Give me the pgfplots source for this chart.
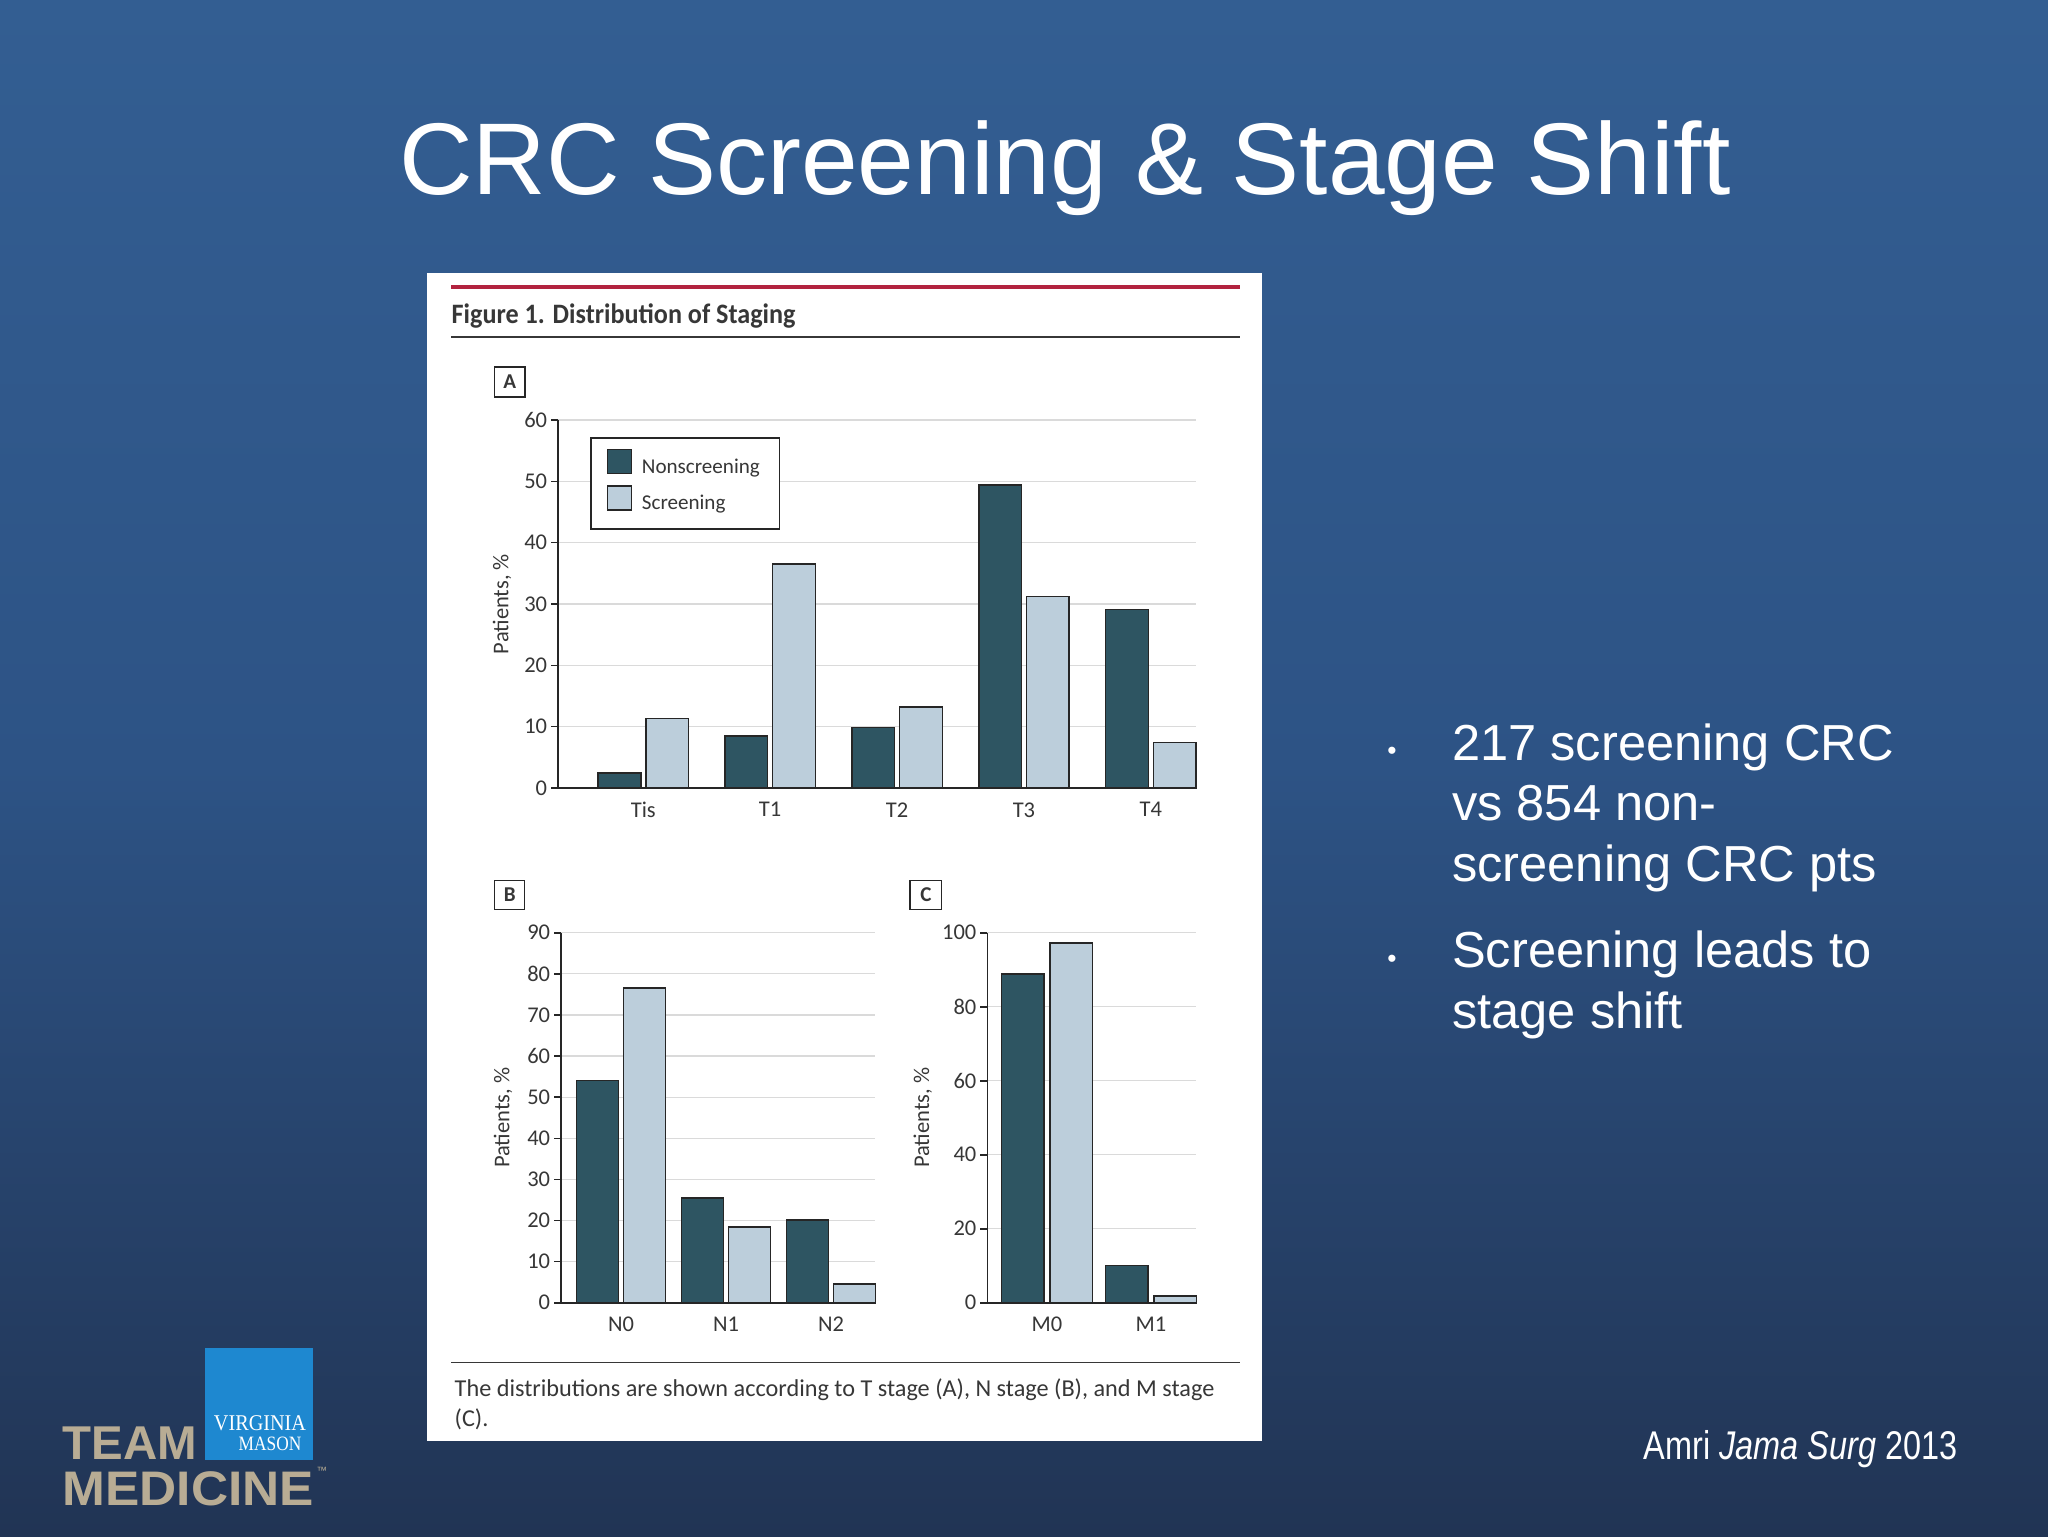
\documentclass[border=0pt]{standalone}
\usepackage{fontspec}
\usepackage{graphicx}
\usepackage{pgfplots}
\usepackage{pgfplotstable}
\pgfplotsset{compat=1.18}
\setmainfont{Liberation Sans}
\newfontfamily\figfont{Carlito}
\newfontfamily\figtitlefont{Carlito}[FakeStretch=0.93]
\newfontfamily\citefont{Liberation Sans}[FakeStretch=0.81]
\newfontfamily\logoserif{Liberation Serif}
\definecolor{bgtop}{RGB}{51,94,146}
\definecolor{bgmid}{RGB}{45,83,133}
\definecolor{bgbot}{RGB}{33,52,84}
\definecolor{nonscr}{RGB}{46,85,98}
\definecolor{scr}{RGB}{188,206,219}
\definecolor{gridc}{RGB}{218,218,218}
\definecolor{figtext}{RGB}{55,55,55}
\definecolor{jamared}{RGB}{178,35,63}
\definecolor{vmblue}{RGB}{30,136,208}
\definecolor{logotan}{RGB}{184,172,148}

\pgfplotstableread{
x ns s
0 2.45 11.3
1 8.5 36.5
2 9.9 13.2
3 49.4 31.2
4 29.1 7.4
}\tableA
\pgfplotstableread{
x ns s
0 54.1 76.5
1 25.5 18.4
2 20.1 4.5
}\tableB
\pgfplotstableread{
x ns s
0 88.9 97.2
1 10.1 1.8
}\tableC

\pgfplotsset{
  panel/.style={
    scale only axis, clip=false,
    axis x line*=bottom, axis y line*=left,
    axis line style={line width=0.45pt, draw=black!85},
    ymin=0,
    ymajorgrids, grid style={gridc, line width=0.35pt},
    tick align=outside, major tick length=0.7mm,
    ytick style={line width=0.45pt, black!85},
    xtick style={draw=none},
    ticklabel style={font=\figfont\fontsize{6.4}{7}\selectfont, text=figtext},
    yticklabel style={xshift=0.85mm},
    xticklabel style={yshift=0.5mm},
    /pgf/number format/assume math mode=true,
    label style={font=\figfont\fontsize{6.4}{7}\selectfont, text=figtext},
    ylabel={Patients, \%},
  },
  nsbar/.style={ybar, fill=nonscr, draw=black!85, line width=0.45pt},
  sbar/.style={ybar, fill=scr, draw=black!85, line width=0.45pt},
}

\begin{document}
\begin{tikzpicture}[x=0.1mm,y=0.1mm]
\useasboundingbox (0,0) rectangle (2048,1536);
\shade[top color=bgtop, bottom color=bgbot, middle color=bgmid] (0,0) rectangle (2048,1536);
\coordinate (pA) at (558,748);
\coordinate (pB) at (561,233.3);
\coordinate (pC) at (987.3,233.3);

% slide title
\node[anchor=base, text=white, inner sep=0, font=\fontsize{29}{35}\selectfont] at (1065,1341) {CRC Screening \& Stage Shift};

% bullets
\begin{scope}[every node/.style={text=white, inner sep=0}]
\node[anchor=base, font=\fontsize{7.5}{9}\selectfont] at (1392,777) {•};
\node[anchor=base, font=\fontsize{7.5}{9}\selectfont] at (1392,569) {•};
\node[anchor=base west, font=\fontsize{14.4}{17.3}\selectfont] at (1451.5,776) {217 screening CRC};
\node[anchor=base west, font=\fontsize{14.4}{17.3}\selectfont] at (1451.5,716) {vs 854 non-};
\node[anchor=base west, font=\fontsize{14.4}{17.3}\selectfont] at (1451.5,654.3) {screening CRC pts};
\node[anchor=base west, font=\fontsize{14.4}{17.3}\selectfont] at (1451.5,569) {Screening leads to};
\node[anchor=base west, font=\fontsize{14.4}{17.3}\selectfont] at (1451.5,508) {stage shift};
\node[anchor=base west, font=\citefont\fontsize{11.4}{13}\selectfont] at (1643,77) {Amri \textit{Jama Surg} 2013};
\end{scope}

% logo
\fill[vmblue] (205,76) rectangle (313,188);
\node[anchor=base, text=white, inner sep=0, font=\logoserif\fontsize{6.4}{7}\selectfont] at (260,106) {\scalebox{0.9}[1]{VIRGINIA}};
\node[anchor=base, text=white, inner sep=0, font=\logoserif\fontsize{5.8}{7}\selectfont] at (270,86) {\scalebox{0.85}[1]{MASON}};
\node[anchor=base west, text=logotan, inner sep=0, font=\bfseries\fontsize{13.5}{15}\selectfont] at (62,77) {TEAM};
\node[anchor=base west, text=logotan, inner sep=0, font=\bfseries\fontsize{13.8}{15}\selectfont] at (62,31) {\scalebox{1.06}[1]{MEDICINE}};
\node[anchor=base west, text=logotan, inner sep=0, font=\fontsize{3}{4}\selectfont] at (316,62) {™};

% white figure panel
\fill[white] (427,95) rectangle (1262,1263);
\draw[jamared, line width=0.43mm] (451,1249) -- (1240,1249);
\node[anchor=base west, inner sep=0, text=figtext, font=\figtitlefont\bfseries\fontsize{8}{9}\selectfont] at (451,1212.4) {Figure 1. Distribution of Staging};
\draw[figtext, line width=0.15mm] (451,1199.2) -- (1240,1199.2);
\draw[black!85, line width=0.12mm] (494.5,1139) rectangle (525,1169);
\node[text=figtext, inner sep=0, font=\figfont\bfseries\fontsize{6}{7}\selectfont] at (509.75,1154) {A};
\draw[black!85, line width=0.12mm] (494.7,626.7) rectangle (524.7,655.3);
\node[text=figtext, inner sep=0, font=\figfont\bfseries\fontsize{6}{7}\selectfont] at (509.7,641) {B};
\draw[black!85, line width=0.12mm] (910,626.7) rectangle (941.7,655.3);
\node[text=figtext, inner sep=0, font=\figfont\bfseries\fontsize{6}{7}\selectfont] at (925.85,641) {C};
\draw[figtext, line width=0.15mm] (451,173.3) -- (1240,173.3);
\node[anchor=base west, inner sep=0, text=figtext, font=\figfont\fontsize{6.9}{8}\selectfont] at (454,139.3) {The distributions are shown according to T stage (A), N stage (B), and M stage};
\node[anchor=base west, inner sep=0, text=figtext, font=\figfont\fontsize{6.9}{8}\selectfont] at (454,109.3) {(C).};

% Panel A
\begin{axis}[panel, at={(pA)}, anchor=south west,
  width=63.8mm, height=36.8mm,
  xmin=-0.672, xmax=4.356, ymax=60,
  ytick={0,10,...,60}, xtick={0,...,4}, xticklabels={Tis,T1,T2,T3,T4},
  ylabel style={at={(axis description cs:-0.0878,0.5)}, anchor=center},
  legend cell align=left,
  legend style={at={(0.0502,0.954)}, anchor=north west, draw=black!85, line width=0.45pt,
    fill=white, inner xsep=1.6mm, inner ysep=1.1mm, row sep=0.3mm,
    font=\figfont\fontsize{6.0}{7}\selectfont, text=figtext, nodes={inner sep=0.35mm}},
]
\addplot[nsbar, bar width=0.337, bar shift=-0.188,
  legend image code/.code={\draw[fill=nonscr, draw=black!85, line width=0.45pt] (0mm,-0.5mm) rectangle (2.4mm,1.9mm); \path (3.0mm,0mm);}]
  table[x=x,y=ns]{\tableA};
\addlegendentry{Nonscreening}
\addplot[sbar, bar width=0.337, bar shift=0.188,
  legend image code/.code={\draw[fill=scr, draw=black!85, line width=0.45pt] (0mm,-0.5mm) rectangle (2.4mm,1.9mm); \path (3.0mm,0mm);}]
  table[x=x,y=s]{\tableA};
\addlegendentry{Screening}
\end{axis}

% Panel B
\begin{axis}[panel, at={(pB)}, anchor=south west,
  width=31.43mm, height=37mm,
  xmin=-0.571, xmax=2.422, ymax=90,
  ytick={0,10,...,90}, xtick={0,1,2}, xticklabels={N0,N1,N2},
  ylabel style={at={(axis description cs:-0.1845,0.5)}, anchor=center},
]
\addplot[nsbar, bar width=0.4, bar shift=-0.223] table[x=x,y=ns]{\tableB};
\addplot[sbar, bar width=0.4, bar shift=0.223] table[x=x,y=s]{\tableB};
\end{axis}

% Panel C
\begin{axis}[panel, at={(pC)}, anchor=south west,
  width=20.9mm, height=37mm,
  xmin=-0.574, xmax=1.436, ymax=100,
  ytick={0,20,...,100}, xtick={0,1}, xticklabels={M0,M1},
  ylabel style={at={(axis description cs:-0.309,0.5)}, anchor=center},
]
\addplot[nsbar, bar width=0.407, bar shift=-0.233] table[x=x,y=ns]{\tableC};
\addplot[sbar, bar width=0.407, bar shift=0.233] table[x=x,y=s]{\tableC};
\end{axis}
\end{tikzpicture}
\end{document}
